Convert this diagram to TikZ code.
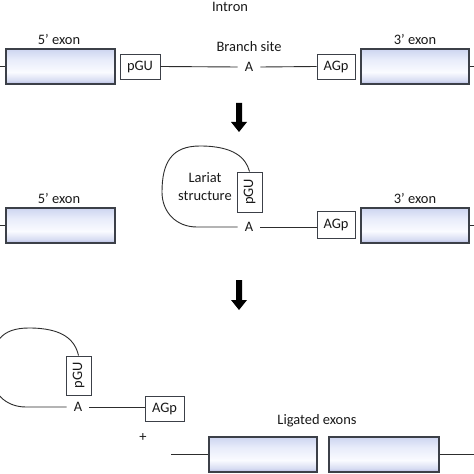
\documentclass[tikz,border=0pt]{standalone}
\usepackage{fontspec}
\setmainfont{Carlito}
\definecolor{lineC}{RGB}{45,45,45}
\definecolor{boxC}{RGB}{60,64,72}
\definecolor{txtC}{RGB}{25,25,25}
\pgfdeclareverticalshading{exonshade}{100bp}{%
  color(0bp)=(rgb,255:red,178;green,186;blue,225);
  color(25bp)=(rgb,255:red,178;green,186;blue,225);
  color(30bp)=(rgb,255:red,215;green,220;blue,242);
  color(42bp)=(rgb,255:red,250;green,251;blue,255);
  color(60bp)=(rgb,255:red,232;green,236;blue,250);
  color(75bp)=(rgb,255:red,205;green,213;blue,240);
  color(100bp)=(rgb,255:red,205;green,213;blue,240)}
\tikzset{
  lab/.style={text=txtC, font=\fontsize{14.5}{18}\selectfont, inner sep=0pt},
  exonbox/.style={draw=boxC, line width=1.1pt, shading=exonshade, minimum height=35bp, inner sep=0pt},
  sitebox/.style={draw=boxC, line width=0.9pt, fill=white, text=txtC, font=\fontsize{14.5}{18}\selectfont, inner sep=0pt},
  anode/.style={text=txtC, font=\fontsize{14.5}{18}\selectfont, inner sep=7bp},
  strand/.style={draw=lineC, line width=0.9pt},
  blockarrow/.style={fill=black, draw=none}
}
\begin{document}
\begin{tikzpicture}[x=1bp,y=-1bp]
\clip (0,0) rectangle (474,474);
\fill[white] (0,0) rectangle (474,474);

% ---- Row 1 ----
\node[lab] (intron) at (230,7) {Intron};
\node[exonbox, minimum width=109bp] (ex5a) at (60.5,66.5) {};
\node[lab] (l5a) at (59,39) {5’ exon};
\node[sitebox, minimum width=40bp, minimum height=25bp] (pgu1) at (140,66.5) {pGU};
\node[anode] (a1) at (249,67) {A};
\node[lab] (branch) at (249,47) {Branch site};
\node[sitebox, minimum width=38bp, minimum height=25bp] (agp1) at (336,66.5) {AGp};
\node[exonbox, minimum width=108bp] (ex3a) at (415,66.5) {};
\node[lab] (l3a) at (415,39) {3’ exon};
\coordinate (r1l) at (0,66.5);
\coordinate (r1r) at (474,66.5);
\draw[strand] (r1l) -- (ex5a.west);
\draw[strand] (ex3a.east) -- (r1r);
\draw[strand] (pgu1.east) -- (a1.west);
\draw[strand] (a1.east) -- (agp1.west);

% ---- Arrow 1 ----
\fill[blockarrow] (236,103) -- (242,103) -- (242,122) -- (247,122) -- (239,132) -- (231,122) -- (236,122) -- cycle;

% ---- Row 2 ----
\node[exonbox, minimum width=109bp] (ex5b) at (60.5,225.5) {};
\node[lab] (l5b) at (59,198) {5’ exon};
\node[lab, align=center] (lariat) at (205,187) {Lariat\\structure};
\node[sitebox, minimum width=25bp, minimum height=40bp] (pgu2) at (249.5,192) {\rotatebox{90}{pGU}};
\node[anode] (a2) at (249,227) {A};
\node[sitebox, minimum width=38bp, minimum height=27bp] (agp2) at (336,224.5) {AGp};
\node[exonbox, minimum width=108bp] (ex3b) at (415,225.5) {};
\node[lab] (l3b) at (415,198) {3’ exon};
\coordinate (r2l) at (0,225.5);
\coordinate (r2r) at (474,225.5);
\draw[strand] (r2l) -- (ex5b.west);
\draw[strand] (ex3b.east) -- (r2r);
\draw[strand] (a2.east) -- (a2.east -| agp2.west);
\draw[strand] (a2.west) -- (197,227) .. controls (176,227) and (162,212) .. (162,192)
  .. controls (162,162) and (172,146) .. (200,146)
  .. controls (234,146) and (246,158) .. (pgu2.north);

% ---- Arrow 2 ----
\fill[blockarrow] (236,280) -- (242,280) -- (242,300) -- (247,300) -- (239,310) -- (231,300) -- (236,300) -- cycle;

% ---- Row 3 ----
\node[sitebox, minimum width=25bp, minimum height=39bp] (pgu3) at (78.5,375.5) {\rotatebox{90}{pGU}};
\node[anode] (a3) at (78,407) {A};
\node[sitebox, minimum width=39bp, minimum height=25bp] (agp3) at (164.5,408.5) {AGp};
\draw[strand] (a3.east) -- (a3.east -| agp3.west);
\draw[strand] (a3.west) -- (26,407) .. controls (5,407) and (-9,392) .. (-9,372)
  .. controls (-9,342) and (1,328) .. (29,328)
  .. controls (63,328) and (75,340) .. (pgu3.north);
\node[lab] (plus) at (143,438) {+};
\node[lab] (ligated) at (317,421) {Ligated exons};
\node[exonbox, minimum width=108bp] (lig1) at (263,454.5) {};
\node[exonbox, minimum width=110bp] (lig2) at (384,454.5) {};
\coordinate (r3l) at (171,454.5);
\coordinate (r3r) at (474,454.5);
\draw[strand] (r3l) -- (lig1.west);
\draw[strand] (lig2.east) -- (r3r);
\end{tikzpicture}
\end{document}
